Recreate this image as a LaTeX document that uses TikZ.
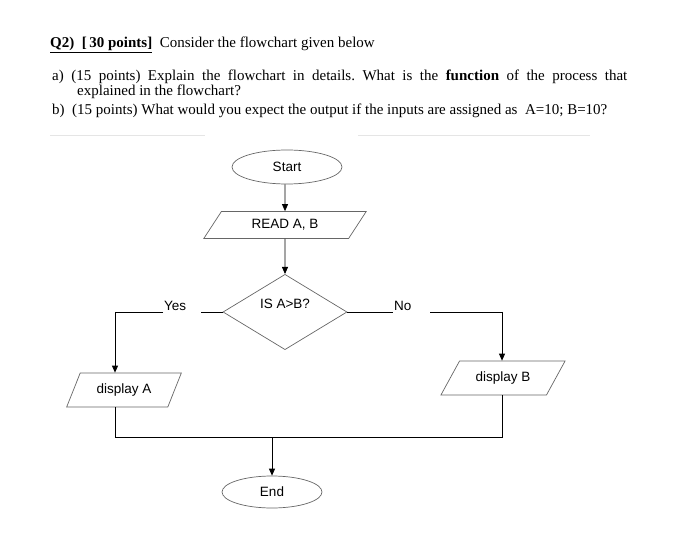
\documentclass[tikz,border=0pt]{standalone}
\usepackage{fontspec}
\setmainfont{Liberation Serif}
\newfontfamily\arialf{Liberation Sans}
\usetikzlibrary{shapes.geometric,arrows.meta}
\newcommand{\qfont}{\fontsize{15}{17}\selectfont\frenchspacing}
\begin{document}
\begin{tikzpicture}[x=1pt,y=-1pt,
  shp/.style={draw=black!60,line width=0.7pt,font=\arialf\fontsize{13.5}{15}\selectfont,inner sep=0pt},
  term/.style={shp,ellipse},
  io/.style={shp,trapezium,trapezium stretches=true},
  con/.style={line width=0.8pt},
  arr/.style={con,-{Triangle[length=7pt,width=6pt]}},
  lbl/.style={font=\arialf\fontsize{13.5}{15}\selectfont,inner sep=1pt}]
\useasboundingbox (0,0) rectangle (677,534);
\node[anchor=base west,inner sep=0] (q) at (50,48) {\qfont\underline{\textbf{Q2)\ \ [\,30 points]}}\ \ Consider the flowchart given below};
\node[anchor=base west,inner sep=0] (qa) at (52,81) {\qfont a)\ \ \makebox[556pt][s]{(15 points) Explain the flowchart in details. What is the \textbf{function} of the process that}};
\node[anchor=base west,inner sep=0] (qa2) at (77,96) {\qfont explained in the flowchart?};
\node[anchor=base west,inner sep=0] (qb) at (52,115) {\qfont b)\ \ (15 points) What would you expect the output if the inputs are assigned as\ \ A=10; B=10?};
\draw[black!10,line width=0.8pt] (50,135) -- (205,135) (358,135) -- (590,135);

\node[term,minimum width=110pt,minimum height=34pt] (s) at (287,167) {Start};
\node[io,trapezium left angle=50,trapezium right angle=130,minimum width=163pt,minimum height=27pt] (r) at (285,225) {READ A, B};
\node[shp,diamond,minimum width=124pt,minimum height=71pt] (d) at (285,312) {\raisebox{16pt}{IS A>B?}};
\node[io,trapezium left angle=56,trapezium right angle=124,minimum width=115pt,minimum height=34pt] (da) at (124,390) {display A};
\node[io,trapezium left angle=47,trapezium right angle=133,minimum width=125pt,minimum height=34pt] (db) at (503,378) {display B};
\node[term,minimum width=100pt,minimum height=32pt] (e) at (272,492) {End};
\node[lbl,anchor=base west] (yes) at (163,311) {Yes};
\node[lbl,anchor=base west] (no) at (393,311) {No};
\coordinate (yl) at (115,312);
\coordinate (nr) at (502,312);
\coordinate (bl) at (115,437);
\coordinate (br) at (502,437);
\coordinate (bm) at (272,437);

\draw[arr] (s.south -| 285,0) -- (r);
\draw[arr] (r) -- (d.north);
\draw[con] (d.west) -- (201,312);
\draw[con] (yes.base west) ++(0,1) coordinate (yw) -- (yl);
\draw[arr] (yl) -- (da.north -| yl);
\draw[con] (d.east) -- (no.base west |- 0,312);
\draw[con] (430,312) -- (nr);
\draw[arr] (nr) -- (db.north -| nr);
\draw[con] (da.south -| bl) -- (bl) -- (br) -- (db.south -| br);
\draw[arr] (bm) -- (e.north);
\end{tikzpicture}
\end{document}
